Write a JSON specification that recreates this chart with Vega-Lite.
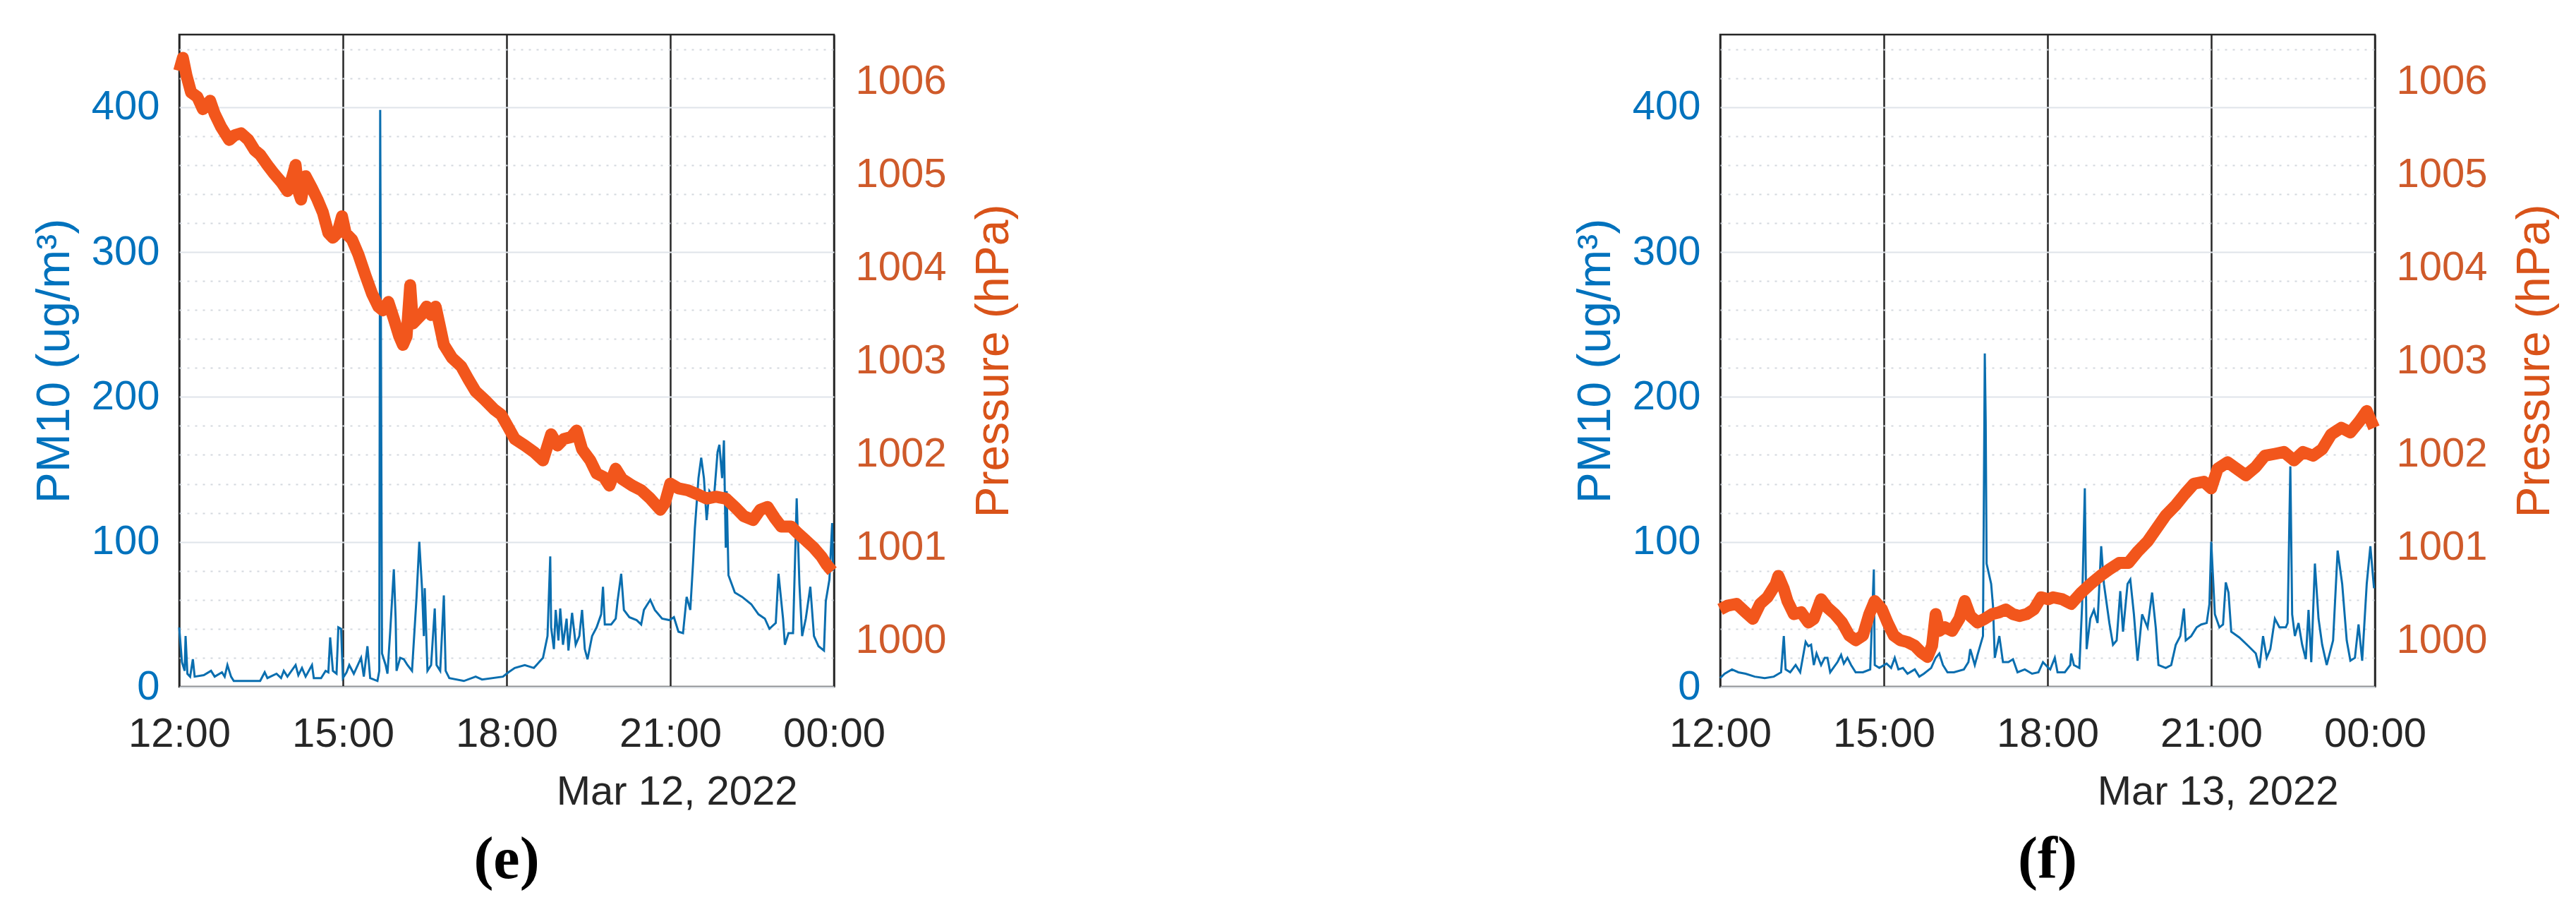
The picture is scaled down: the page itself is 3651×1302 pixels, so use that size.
{
  "$schema": "https://vega.github.io/schema/vega-lite/v6.json",
  "background": "white",
  "padding": {"left": 42, "top": 47, "right": 10, "bottom": 10},
  "spacing": 1256,
  "bounds": "flush",
  "config": {
    "font": "Liberation Sans",
    "view": {"stroke": "#262626", "strokeWidth": 2.5},
    "axis": {
      "labelFont": "Liberation Sans",
      "titleFont": "Liberation Sans",
      "labelFontSize": 58,
      "titleFontSize": 66,
      "titleFontWeight": "normal",
      "domain": false,
      "ticks": false,
      "tickSize": 0
    }
  },
  "datasets": {
    "pm_e": [
      {"time": "2022-03-12T12:00", "pm10": 41}, {"time": "2022-03-12T12:03", "pm10": 17}, {"time": "2022-03-12T12:06", "pm10": 11},
      {"time": "2022-03-12T12:07", "pm10": 35}, {"time": "2022-03-12T12:09", "pm10": 9}, {"time": "2022-03-12T12:12", "pm10": 7},
      {"time": "2022-03-12T12:15", "pm10": 19}, {"time": "2022-03-12T12:17", "pm10": 7}, {"time": "2022-03-12T12:27", "pm10": 8},
      {"time": "2022-03-12T12:35", "pm10": 11}, {"time": "2022-03-12T12:39", "pm10": 7}, {"time": "2022-03-12T12:47", "pm10": 10},
      {"time": "2022-03-12T12:50", "pm10": 7}, {"time": "2022-03-12T12:53", "pm10": 15}, {"time": "2022-03-12T12:57", "pm10": 7},
      {"time": "2022-03-12T13:00", "pm10": 4}, {"time": "2022-03-12T13:29", "pm10": 4}, {"time": "2022-03-12T13:34", "pm10": 10},
      {"time": "2022-03-12T13:37", "pm10": 6}, {"time": "2022-03-12T13:47", "pm10": 9}, {"time": "2022-03-12T13:52", "pm10": 6},
      {"time": "2022-03-12T13:55", "pm10": 11}, {"time": "2022-03-12T13:59", "pm10": 7}, {"time": "2022-03-12T14:08", "pm10": 15},
      {"time": "2022-03-12T14:11", "pm10": 8}, {"time": "2022-03-12T14:15", "pm10": 13}, {"time": "2022-03-12T14:19", "pm10": 7},
      {"time": "2022-03-12T14:26", "pm10": 15}, {"time": "2022-03-12T14:28", "pm10": 6}, {"time": "2022-03-12T14:36", "pm10": 6},
      {"time": "2022-03-12T14:41", "pm10": 11}, {"time": "2022-03-12T14:44", "pm10": 10}, {"time": "2022-03-12T14:46", "pm10": 34},
      {"time": "2022-03-12T14:49", "pm10": 11}, {"time": "2022-03-12T14:53", "pm10": 9}, {"time": "2022-03-12T14:55", "pm10": 41},
      {"time": "2022-03-12T14:58", "pm10": 40}, {"time": "2022-03-12T15:00", "pm10": 6}, {"time": "2022-03-12T15:04", "pm10": 10},
      {"time": "2022-03-12T15:07", "pm10": 15}, {"time": "2022-03-12T15:12", "pm10": 9}, {"time": "2022-03-12T15:20", "pm10": 20},
      {"time": "2022-03-12T15:23", "pm10": 7}, {"time": "2022-03-12T15:27", "pm10": 28}, {"time": "2022-03-12T15:30", "pm10": 6},
      {"time": "2022-03-12T15:38", "pm10": 4}, {"time": "2022-03-12T15:40", "pm10": 11}, {"time": "2022-03-12T15:41", "pm10": 398},
      {"time": "2022-03-12T15:43", "pm10": 23}, {"time": "2022-03-12T15:47", "pm10": 15}, {"time": "2022-03-12T15:49", "pm10": 9},
      {"time": "2022-03-12T15:52", "pm10": 38}, {"time": "2022-03-12T15:56", "pm10": 81}, {"time": "2022-03-12T15:58", "pm10": 47},
      {"time": "2022-03-12T15:59", "pm10": 11}, {"time": "2022-03-12T16:03", "pm10": 20}, {"time": "2022-03-12T16:07", "pm10": 19},
      {"time": "2022-03-12T16:11", "pm10": 15}, {"time": "2022-03-12T16:16", "pm10": 11}, {"time": "2022-03-12T16:21", "pm10": 62},
      {"time": "2022-03-12T16:24", "pm10": 100}, {"time": "2022-03-12T16:27", "pm10": 68}, {"time": "2022-03-12T16:29", "pm10": 35},
      {"time": "2022-03-12T16:30", "pm10": 68}, {"time": "2022-03-12T16:33", "pm10": 11}, {"time": "2022-03-12T16:37", "pm10": 15},
      {"time": "2022-03-12T16:41", "pm10": 54}, {"time": "2022-03-12T16:43", "pm10": 15}, {"time": "2022-03-12T16:47", "pm10": 11},
      {"time": "2022-03-12T16:51", "pm10": 63}, {"time": "2022-03-12T16:53", "pm10": 11}, {"time": "2022-03-12T16:57", "pm10": 6},
      {"time": "2022-03-12T17:13", "pm10": 4}, {"time": "2022-03-12T17:26", "pm10": 7}, {"time": "2022-03-12T17:33", "pm10": 5},
      {"time": "2022-03-12T17:56", "pm10": 7}, {"time": "2022-03-12T18:02", "pm10": 10}, {"time": "2022-03-12T18:09", "pm10": 13},
      {"time": "2022-03-12T18:20", "pm10": 15}, {"time": "2022-03-12T18:30", "pm10": 13}, {"time": "2022-03-12T18:40", "pm10": 20},
      {"time": "2022-03-12T18:45", "pm10": 35}, {"time": "2022-03-12T18:48", "pm10": 90}, {"time": "2022-03-12T18:49", "pm10": 41},
      {"time": "2022-03-12T18:52", "pm10": 26}, {"time": "2022-03-12T18:54", "pm10": 53}, {"time": "2022-03-12T18:57", "pm10": 32},
      {"time": "2022-03-12T18:59", "pm10": 54}, {"time": "2022-03-12T19:02", "pm10": 29}, {"time": "2022-03-12T19:06", "pm10": 47},
      {"time": "2022-03-12T19:08", "pm10": 25}, {"time": "2022-03-12T19:12", "pm10": 51}, {"time": "2022-03-12T19:16", "pm10": 29},
      {"time": "2022-03-12T19:20", "pm10": 35}, {"time": "2022-03-12T19:23", "pm10": 53}, {"time": "2022-03-12T19:26", "pm10": 26},
      {"time": "2022-03-12T19:29", "pm10": 19}, {"time": "2022-03-12T19:34", "pm10": 35}, {"time": "2022-03-12T19:39", "pm10": 41},
      {"time": "2022-03-12T19:44", "pm10": 50}, {"time": "2022-03-12T19:46", "pm10": 69}, {"time": "2022-03-12T19:48", "pm10": 43},
      {"time": "2022-03-12T19:55", "pm10": 43}, {"time": "2022-03-12T20:00", "pm10": 47}, {"time": "2022-03-12T20:02", "pm10": 59},
      {"time": "2022-03-12T20:06", "pm10": 78}, {"time": "2022-03-12T20:09", "pm10": 53}, {"time": "2022-03-12T20:15", "pm10": 48},
      {"time": "2022-03-12T20:23", "pm10": 46}, {"time": "2022-03-12T20:28", "pm10": 43}, {"time": "2022-03-12T20:31", "pm10": 53},
      {"time": "2022-03-12T20:38", "pm10": 60}, {"time": "2022-03-12T20:43", "pm10": 53}, {"time": "2022-03-12T20:51", "pm10": 47},
      {"time": "2022-03-12T20:59", "pm10": 46}, {"time": "2022-03-12T21:04", "pm10": 48}, {"time": "2022-03-12T21:09", "pm10": 38},
      {"time": "2022-03-12T21:14", "pm10": 37}, {"time": "2022-03-12T21:18", "pm10": 62}, {"time": "2022-03-12T21:22", "pm10": 53},
      {"time": "2022-03-12T21:25", "pm10": 85}, {"time": "2022-03-12T21:27", "pm10": 109}, {"time": "2022-03-12T21:31", "pm10": 144},
      {"time": "2022-03-12T21:34", "pm10": 158}, {"time": "2022-03-12T21:37", "pm10": 144}, {"time": "2022-03-12T21:40", "pm10": 115},
      {"time": "2022-03-12T21:43", "pm10": 135}, {"time": "2022-03-12T21:48", "pm10": 130}, {"time": "2022-03-12T21:52", "pm10": 162},
      {"time": "2022-03-12T21:54", "pm10": 167}, {"time": "2022-03-12T21:57", "pm10": 144}, {"time": "2022-03-12T21:59", "pm10": 170},
      {"time": "2022-03-12T22:01", "pm10": 96}, {"time": "2022-03-12T22:02", "pm10": 135}, {"time": "2022-03-12T22:04", "pm10": 77},
      {"time": "2022-03-12T22:11", "pm10": 65}, {"time": "2022-03-12T22:19", "pm10": 62}, {"time": "2022-03-12T22:29", "pm10": 57},
      {"time": "2022-03-12T22:37", "pm10": 50}, {"time": "2022-03-12T22:44", "pm10": 47}, {"time": "2022-03-12T22:49", "pm10": 40},
      {"time": "2022-03-12T22:56", "pm10": 44}, {"time": "2022-03-12T22:59", "pm10": 78}, {"time": "2022-03-12T23:04", "pm10": 47},
      {"time": "2022-03-12T23:06", "pm10": 29}, {"time": "2022-03-12T23:10", "pm10": 37}, {"time": "2022-03-12T23:15", "pm10": 37},
      {"time": "2022-03-12T23:19", "pm10": 130}, {"time": "2022-03-12T23:22", "pm10": 71}, {"time": "2022-03-12T23:25", "pm10": 35},
      {"time": "2022-03-12T23:29", "pm10": 47}, {"time": "2022-03-12T23:34", "pm10": 69}, {"time": "2022-03-12T23:38", "pm10": 35},
      {"time": "2022-03-12T23:43", "pm10": 28}, {"time": "2022-03-12T23:49", "pm10": 25}, {"time": "2022-03-12T23:51", "pm10": 59},
      {"time": "2022-03-12T23:55", "pm10": 74}, {"time": "2022-03-12T23:58", "pm10": 113}, {"time": "2022-03-12T23:59", "pm10": 80}
    ],
    "pr_e": [
      {"time": "2022-03-12T12:00", "pressure": 1006.11}, {"time": "2022-03-12T12:04", "pressure": 1006.25}, {"time": "2022-03-12T12:08", "pressure": 1006.06},
      {"time": "2022-03-12T12:13", "pressure": 1005.88}, {"time": "2022-03-12T12:20", "pressure": 1005.83}, {"time": "2022-03-12T12:26", "pressure": 1005.7},
      {"time": "2022-03-12T12:34", "pressure": 1005.79}, {"time": "2022-03-12T12:39", "pressure": 1005.65}, {"time": "2022-03-12T12:46", "pressure": 1005.51},
      {"time": "2022-03-12T12:55", "pressure": 1005.37}, {"time": "2022-03-12T13:01", "pressure": 1005.42}, {"time": "2022-03-12T13:08", "pressure": 1005.44},
      {"time": "2022-03-12T13:16", "pressure": 1005.37}, {"time": "2022-03-12T13:23", "pressure": 1005.26}, {"time": "2022-03-12T13:29", "pressure": 1005.21},
      {"time": "2022-03-12T13:37", "pressure": 1005.1}, {"time": "2022-03-12T13:44", "pressure": 1005.01}, {"time": "2022-03-12T13:52", "pressure": 1004.92},
      {"time": "2022-03-12T13:59", "pressure": 1004.82}, {"time": "2022-03-12T14:04", "pressure": 1004.96}, {"time": "2022-03-12T14:08", "pressure": 1005.1},
      {"time": "2022-03-12T14:11", "pressure": 1004.82}, {"time": "2022-03-12T14:14", "pressure": 1004.73}, {"time": "2022-03-12T14:19", "pressure": 1004.98},
      {"time": "2022-03-12T14:26", "pressure": 1004.85}, {"time": "2022-03-12T14:32", "pressure": 1004.73}, {"time": "2022-03-12T14:38", "pressure": 1004.59},
      {"time": "2022-03-12T14:44", "pressure": 1004.37}, {"time": "2022-03-12T14:49", "pressure": 1004.32}, {"time": "2022-03-12T14:54", "pressure": 1004.37},
      {"time": "2022-03-12T14:59", "pressure": 1004.55}, {"time": "2022-03-12T15:03", "pressure": 1004.37}, {"time": "2022-03-12T15:10", "pressure": 1004.3},
      {"time": "2022-03-12T15:17", "pressure": 1004.14}, {"time": "2022-03-12T15:25", "pressure": 1003.91}, {"time": "2022-03-12T15:32", "pressure": 1003.72},
      {"time": "2022-03-12T15:39", "pressure": 1003.58}, {"time": "2022-03-12T15:44", "pressure": 1003.54}, {"time": "2022-03-12T15:50", "pressure": 1003.63},
      {"time": "2022-03-12T15:56", "pressure": 1003.45}, {"time": "2022-03-12T16:02", "pressure": 1003.26}, {"time": "2022-03-12T16:06", "pressure": 1003.17},
      {"time": "2022-03-12T16:10", "pressure": 1003.26}, {"time": "2022-03-12T16:14", "pressure": 1003.81}, {"time": "2022-03-12T16:17", "pressure": 1003.4},
      {"time": "2022-03-12T16:22", "pressure": 1003.45}, {"time": "2022-03-12T16:26", "pressure": 1003.49}, {"time": "2022-03-12T16:32", "pressure": 1003.58},
      {"time": "2022-03-12T16:37", "pressure": 1003.49}, {"time": "2022-03-12T16:42", "pressure": 1003.58}, {"time": "2022-03-12T16:46", "pressure": 1003.4},
      {"time": "2022-03-12T16:51", "pressure": 1003.17}, {"time": "2022-03-12T17:00", "pressure": 1003.03}, {"time": "2022-03-12T17:10", "pressure": 1002.94},
      {"time": "2022-03-12T17:18", "pressure": 1002.8}, {"time": "2022-03-12T17:26", "pressure": 1002.67}, {"time": "2022-03-12T17:36", "pressure": 1002.58},
      {"time": "2022-03-12T17:46", "pressure": 1002.48}, {"time": "2022-03-12T17:54", "pressure": 1002.42}, {"time": "2022-03-12T18:01", "pressure": 1002.3},
      {"time": "2022-03-12T18:09", "pressure": 1002.16}, {"time": "2022-03-12T18:20", "pressure": 1002.09}, {"time": "2022-03-12T18:30", "pressure": 1002.02},
      {"time": "2022-03-12T18:40", "pressure": 1001.93}, {"time": "2022-03-12T18:49", "pressure": 1002.21}, {"time": "2022-03-12T18:56", "pressure": 1002.09},
      {"time": "2022-03-12T19:03", "pressure": 1002.16}, {"time": "2022-03-12T19:11", "pressure": 1002.18}, {"time": "2022-03-12T19:17", "pressure": 1002.25},
      {"time": "2022-03-12T19:23", "pressure": 1002.05}, {"time": "2022-03-12T19:32", "pressure": 1001.93}, {"time": "2022-03-12T19:39", "pressure": 1001.79},
      {"time": "2022-03-12T19:47", "pressure": 1001.75}, {"time": "2022-03-12T19:53", "pressure": 1001.66}, {"time": "2022-03-12T20:00", "pressure": 1001.84},
      {"time": "2022-03-12T20:07", "pressure": 1001.73}, {"time": "2022-03-12T20:18", "pressure": 1001.66}, {"time": "2022-03-12T20:28", "pressure": 1001.61},
      {"time": "2022-03-12T20:38", "pressure": 1001.52}, {"time": "2022-03-12T20:49", "pressure": 1001.4}, {"time": "2022-03-12T20:54", "pressure": 1001.47},
      {"time": "2022-03-12T21:00", "pressure": 1001.68}, {"time": "2022-03-12T21:09", "pressure": 1001.63}, {"time": "2022-03-12T21:19", "pressure": 1001.61},
      {"time": "2022-03-12T21:29", "pressure": 1001.57}, {"time": "2022-03-12T21:40", "pressure": 1001.52}, {"time": "2022-03-12T21:50", "pressure": 1001.54},
      {"time": "2022-03-12T22:01", "pressure": 1001.52}, {"time": "2022-03-12T22:11", "pressure": 1001.43}, {"time": "2022-03-12T22:21", "pressure": 1001.33},
      {"time": "2022-03-12T22:31", "pressure": 1001.29}, {"time": "2022-03-12T22:39", "pressure": 1001.4}, {"time": "2022-03-12T22:47", "pressure": 1001.43},
      {"time": "2022-03-12T22:55", "pressure": 1001.31}, {"time": "2022-03-12T23:02", "pressure": 1001.22}, {"time": "2022-03-12T23:13", "pressure": 1001.22},
      {"time": "2022-03-12T23:20", "pressure": 1001.15}, {"time": "2022-03-12T23:28", "pressure": 1001.08}, {"time": "2022-03-12T23:38", "pressure": 1000.99},
      {"time": "2022-03-12T23:46", "pressure": 1000.9}, {"time": "2022-03-12T23:52", "pressure": 1000.81}, {"time": "2022-03-12T23:58", "pressure": 1000.74}
    ],
    "pm_f": [
      {"time": "2022-03-13T12:00", "pm10": 6}, {"time": "2022-03-13T12:05", "pm10": 9}, {"time": "2022-03-13T12:13", "pm10": 12},
      {"time": "2022-03-13T12:20", "pm10": 10}, {"time": "2022-03-13T12:28", "pm10": 9}, {"time": "2022-03-13T12:38", "pm10": 7},
      {"time": "2022-03-13T12:49", "pm10": 6}, {"time": "2022-03-13T12:59", "pm10": 7}, {"time": "2022-03-13T13:07", "pm10": 10},
      {"time": "2022-03-13T13:10", "pm10": 35}, {"time": "2022-03-13T13:12", "pm10": 12}, {"time": "2022-03-13T13:17", "pm10": 10},
      {"time": "2022-03-13T13:23", "pm10": 15}, {"time": "2022-03-13T13:28", "pm10": 10}, {"time": "2022-03-13T13:34", "pm10": 31},
      {"time": "2022-03-13T13:37", "pm10": 28}, {"time": "2022-03-13T13:40", "pm10": 29}, {"time": "2022-03-13T13:43", "pm10": 15},
      {"time": "2022-03-13T13:46", "pm10": 23}, {"time": "2022-03-13T13:51", "pm10": 15}, {"time": "2022-03-13T13:55", "pm10": 20},
      {"time": "2022-03-13T13:58", "pm10": 20}, {"time": "2022-03-13T14:01", "pm10": 10}, {"time": "2022-03-13T14:09", "pm10": 17},
      {"time": "2022-03-13T14:13", "pm10": 22}, {"time": "2022-03-13T14:16", "pm10": 16}, {"time": "2022-03-13T14:20", "pm10": 20},
      {"time": "2022-03-13T14:24", "pm10": 15}, {"time": "2022-03-13T14:29", "pm10": 10}, {"time": "2022-03-13T14:37", "pm10": 10},
      {"time": "2022-03-13T14:45", "pm10": 12}, {"time": "2022-03-13T14:49", "pm10": 81}, {"time": "2022-03-13T14:50", "pm10": 15},
      {"time": "2022-03-13T14:55", "pm10": 13}, {"time": "2022-03-13T15:03", "pm10": 16}, {"time": "2022-03-13T15:08", "pm10": 13},
      {"time": "2022-03-13T15:12", "pm10": 20}, {"time": "2022-03-13T15:16", "pm10": 12}, {"time": "2022-03-13T15:21", "pm10": 13},
      {"time": "2022-03-13T15:26", "pm10": 9}, {"time": "2022-03-13T15:34", "pm10": 12}, {"time": "2022-03-13T15:39", "pm10": 7},
      {"time": "2022-03-13T15:44", "pm10": 9}, {"time": "2022-03-13T15:52", "pm10": 13}, {"time": "2022-03-13T15:57", "pm10": 20},
      {"time": "2022-03-13T16:01", "pm10": 23}, {"time": "2022-03-13T16:05", "pm10": 15}, {"time": "2022-03-13T16:10", "pm10": 10},
      {"time": "2022-03-13T16:17", "pm10": 10}, {"time": "2022-03-13T16:28", "pm10": 12}, {"time": "2022-03-13T16:33", "pm10": 17},
      {"time": "2022-03-13T16:35", "pm10": 26}, {"time": "2022-03-13T16:40", "pm10": 15}, {"time": "2022-03-13T16:43", "pm10": 22},
      {"time": "2022-03-13T16:49", "pm10": 35}, {"time": "2022-03-13T16:51", "pm10": 230}, {"time": "2022-03-13T16:52", "pm10": 183},
      {"time": "2022-03-13T16:53", "pm10": 85}, {"time": "2022-03-13T16:58", "pm10": 71}, {"time": "2022-03-13T17:00", "pm10": 56},
      {"time": "2022-03-13T17:02", "pm10": 20}, {"time": "2022-03-13T17:07", "pm10": 35}, {"time": "2022-03-13T17:11", "pm10": 17},
      {"time": "2022-03-13T17:17", "pm10": 17}, {"time": "2022-03-13T17:22", "pm10": 19}, {"time": "2022-03-13T17:27", "pm10": 10},
      {"time": "2022-03-13T17:35", "pm10": 12}, {"time": "2022-03-13T17:43", "pm10": 9}, {"time": "2022-03-13T17:50", "pm10": 10},
      {"time": "2022-03-13T17:55", "pm10": 17}, {"time": "2022-03-13T18:01", "pm10": 13}, {"time": "2022-03-13T18:03", "pm10": 12},
      {"time": "2022-03-13T18:08", "pm10": 20}, {"time": "2022-03-13T18:11", "pm10": 10}, {"time": "2022-03-13T18:19", "pm10": 10},
      {"time": "2022-03-13T18:25", "pm10": 15}, {"time": "2022-03-13T18:26", "pm10": 23}, {"time": "2022-03-13T18:29", "pm10": 15},
      {"time": "2022-03-13T18:35", "pm10": 13}, {"time": "2022-03-13T18:38", "pm10": 56}, {"time": "2022-03-13T18:41", "pm10": 137},
      {"time": "2022-03-13T18:43", "pm10": 26}, {"time": "2022-03-13T18:47", "pm10": 47}, {"time": "2022-03-13T18:51", "pm10": 53},
      {"time": "2022-03-13T18:55", "pm10": 44}, {"time": "2022-03-13T18:59", "pm10": 97}, {"time": "2022-03-13T19:02", "pm10": 71},
      {"time": "2022-03-13T19:04", "pm10": 62}, {"time": "2022-03-13T19:08", "pm10": 44}, {"time": "2022-03-13T19:12", "pm10": 29},
      {"time": "2022-03-13T19:16", "pm10": 32}, {"time": "2022-03-13T19:20", "pm10": 66}, {"time": "2022-03-13T19:23", "pm10": 38},
      {"time": "2022-03-13T19:28", "pm10": 71}, {"time": "2022-03-13T19:31", "pm10": 74}, {"time": "2022-03-13T19:35", "pm10": 50},
      {"time": "2022-03-13T19:39", "pm10": 18}, {"time": "2022-03-13T19:44", "pm10": 50}, {"time": "2022-03-13T19:50", "pm10": 41},
      {"time": "2022-03-13T19:55", "pm10": 65}, {"time": "2022-03-13T19:59", "pm10": 41}, {"time": "2022-03-13T20:02", "pm10": 15},
      {"time": "2022-03-13T20:10", "pm10": 13}, {"time": "2022-03-13T20:16", "pm10": 15}, {"time": "2022-03-13T20:21", "pm10": 29},
      {"time": "2022-03-13T20:26", "pm10": 35}, {"time": "2022-03-13T20:30", "pm10": 54}, {"time": "2022-03-13T20:32", "pm10": 32},
      {"time": "2022-03-13T20:38", "pm10": 35}, {"time": "2022-03-13T20:44", "pm10": 41}, {"time": "2022-03-13T20:49", "pm10": 43},
      {"time": "2022-03-13T20:55", "pm10": 44}, {"time": "2022-03-13T20:58", "pm10": 57}, {"time": "2022-03-13T21:00", "pm10": 100},
      {"time": "2022-03-13T21:04", "pm10": 50}, {"time": "2022-03-13T21:09", "pm10": 41}, {"time": "2022-03-13T21:13", "pm10": 43},
      {"time": "2022-03-13T21:16", "pm10": 72}, {"time": "2022-03-13T21:19", "pm10": 65}, {"time": "2022-03-13T21:22", "pm10": 38},
      {"time": "2022-03-13T21:31", "pm10": 34}, {"time": "2022-03-13T21:41", "pm10": 28}, {"time": "2022-03-13T21:49", "pm10": 23},
      {"time": "2022-03-13T21:53", "pm10": 13}, {"time": "2022-03-13T21:57", "pm10": 35}, {"time": "2022-03-13T22:01", "pm10": 20},
      {"time": "2022-03-13T22:05", "pm10": 26}, {"time": "2022-03-13T22:10", "pm10": 47}, {"time": "2022-03-13T22:15", "pm10": 41},
      {"time": "2022-03-13T22:22", "pm10": 41}, {"time": "2022-03-13T22:24", "pm10": 44}, {"time": "2022-03-13T22:27", "pm10": 152},
      {"time": "2022-03-13T22:29", "pm10": 50}, {"time": "2022-03-13T22:32", "pm10": 35}, {"time": "2022-03-13T22:36", "pm10": 44},
      {"time": "2022-03-13T22:40", "pm10": 29}, {"time": "2022-03-13T22:44", "pm10": 19}, {"time": "2022-03-13T22:47", "pm10": 53},
      {"time": "2022-03-13T22:50", "pm10": 17}, {"time": "2022-03-13T22:54", "pm10": 85}, {"time": "2022-03-13T22:58", "pm10": 47},
      {"time": "2022-03-13T23:02", "pm10": 29}, {"time": "2022-03-13T23:07", "pm10": 15}, {"time": "2022-03-13T23:14", "pm10": 32},
      {"time": "2022-03-13T23:19", "pm10": 94}, {"time": "2022-03-13T23:24", "pm10": 71}, {"time": "2022-03-13T23:29", "pm10": 32},
      {"time": "2022-03-13T23:33", "pm10": 18}, {"time": "2022-03-13T23:38", "pm10": 20}, {"time": "2022-03-13T23:42", "pm10": 43},
      {"time": "2022-03-13T23:46", "pm10": 18}, {"time": "2022-03-13T23:51", "pm10": 71}, {"time": "2022-03-13T23:55", "pm10": 97},
      {"time": "2022-03-13T23:59", "pm10": 68}
    ],
    "pr_f": [
      {"time": "2022-03-13T12:00", "pressure": 1000.33}, {"time": "2022-03-13T12:08", "pressure": 1000.37}, {"time": "2022-03-13T12:18", "pressure": 1000.39},
      {"time": "2022-03-13T12:28", "pressure": 1000.3}, {"time": "2022-03-13T12:36", "pressure": 1000.23}, {"time": "2022-03-13T12:44", "pressure": 1000.39},
      {"time": "2022-03-13T12:52", "pressure": 1000.46}, {"time": "2022-03-13T13:01", "pressure": 1000.6}, {"time": "2022-03-13T13:04", "pressure": 1000.69},
      {"time": "2022-03-13T13:10", "pressure": 1000.55}, {"time": "2022-03-13T13:14", "pressure": 1000.42}, {"time": "2022-03-13T13:21", "pressure": 1000.28},
      {"time": "2022-03-13T13:29", "pressure": 1000.3}, {"time": "2022-03-13T13:37", "pressure": 1000.19}, {"time": "2022-03-13T13:43", "pressure": 1000.23},
      {"time": "2022-03-13T13:51", "pressure": 1000.44}, {"time": "2022-03-13T13:58", "pressure": 1000.35}, {"time": "2022-03-13T14:06", "pressure": 1000.28},
      {"time": "2022-03-13T14:14", "pressure": 1000.19}, {"time": "2022-03-13T14:22", "pressure": 1000.05}, {"time": "2022-03-13T14:29", "pressure": 1000.0},
      {"time": "2022-03-13T14:37", "pressure": 1000.05}, {"time": "2022-03-13T14:44", "pressure": 1000.28}, {"time": "2022-03-13T14:50", "pressure": 1000.42},
      {"time": "2022-03-13T14:58", "pressure": 1000.33}, {"time": "2022-03-13T15:04", "pressure": 1000.19}, {"time": "2022-03-13T15:11", "pressure": 1000.05},
      {"time": "2022-03-13T15:18", "pressure": 1000.0}, {"time": "2022-03-13T15:26", "pressure": 999.98}, {"time": "2022-03-13T15:34", "pressure": 999.94},
      {"time": "2022-03-13T15:41", "pressure": 999.87}, {"time": "2022-03-13T15:48", "pressure": 999.82}, {"time": "2022-03-13T15:53", "pressure": 999.94},
      {"time": "2022-03-13T15:57", "pressure": 1000.28}, {"time": "2022-03-13T16:01", "pressure": 1000.1}, {"time": "2022-03-13T16:07", "pressure": 1000.14},
      {"time": "2022-03-13T16:15", "pressure": 1000.1}, {"time": "2022-03-13T16:23", "pressure": 1000.23}, {"time": "2022-03-13T16:29", "pressure": 1000.42},
      {"time": "2022-03-13T16:35", "pressure": 1000.26}, {"time": "2022-03-13T16:43", "pressure": 1000.19}, {"time": "2022-03-13T16:51", "pressure": 1000.23},
      {"time": "2022-03-13T16:59", "pressure": 1000.28}, {"time": "2022-03-13T17:07", "pressure": 1000.3}, {"time": "2022-03-13T17:14", "pressure": 1000.33},
      {"time": "2022-03-13T17:22", "pressure": 1000.28}, {"time": "2022-03-13T17:29", "pressure": 1000.26}, {"time": "2022-03-13T17:37", "pressure": 1000.28},
      {"time": "2022-03-13T17:45", "pressure": 1000.33}, {"time": "2022-03-13T17:53", "pressure": 1000.46}, {"time": "2022-03-13T18:01", "pressure": 1000.44},
      {"time": "2022-03-13T18:06", "pressure": 1000.46}, {"time": "2022-03-13T18:16", "pressure": 1000.44}, {"time": "2022-03-13T18:26", "pressure": 1000.39},
      {"time": "2022-03-13T18:37", "pressure": 1000.51}, {"time": "2022-03-13T18:47", "pressure": 1000.6}, {"time": "2022-03-13T18:58", "pressure": 1000.69},
      {"time": "2022-03-13T19:08", "pressure": 1000.76}, {"time": "2022-03-13T19:19", "pressure": 1000.83}, {"time": "2022-03-13T19:29", "pressure": 1000.83},
      {"time": "2022-03-13T19:39", "pressure": 1000.95}, {"time": "2022-03-13T19:50", "pressure": 1001.06}, {"time": "2022-03-13T20:00", "pressure": 1001.2},
      {"time": "2022-03-13T20:10", "pressure": 1001.34}, {"time": "2022-03-13T20:21", "pressure": 1001.45}, {"time": "2022-03-13T20:31", "pressure": 1001.57},
      {"time": "2022-03-13T20:41", "pressure": 1001.68}, {"time": "2022-03-13T20:52", "pressure": 1001.7}, {"time": "2022-03-13T21:00", "pressure": 1001.63},
      {"time": "2022-03-13T21:07", "pressure": 1001.84}, {"time": "2022-03-13T21:18", "pressure": 1001.91}, {"time": "2022-03-13T21:28", "pressure": 1001.84},
      {"time": "2022-03-13T21:38", "pressure": 1001.77}, {"time": "2022-03-13T21:49", "pressure": 1001.86}, {"time": "2022-03-13T21:59", "pressure": 1001.98},
      {"time": "2022-03-13T22:10", "pressure": 1002.0}, {"time": "2022-03-13T22:20", "pressure": 1002.02}, {"time": "2022-03-13T22:31", "pressure": 1001.93},
      {"time": "2022-03-13T22:41", "pressure": 1002.02}, {"time": "2022-03-13T22:52", "pressure": 1001.98}, {"time": "2022-03-13T23:02", "pressure": 1002.05},
      {"time": "2022-03-13T23:12", "pressure": 1002.21}, {"time": "2022-03-13T23:23", "pressure": 1002.28}, {"time": "2022-03-13T23:33", "pressure": 1002.23},
      {"time": "2022-03-13T23:43", "pressure": 1002.35}, {"time": "2022-03-13T23:51", "pressure": 1002.46}, {"time": "2022-03-13T23:59", "pressure": 1002.28}
    ]
  },
  "hconcat": [
    {
      "width": 928,
      "height": 924,
      "title": {"text": "(e)", "orient": "bottom", "anchor": "middle", "frame": "group", "font": "Liberation Serif", "fontSize": 84, "fontWeight": "bold", "color": "#000000", "baseline": "top", "offset": 27},
      "encoding": {
        "x": {
          "field": "time", "type": "temporal",
          "scale": {"domain": [{"year": 2022, "month": 3, "date": 12, "hours": 12}, {"year": 2022, "month": 3, "date": 13, "hours": 0}], "nice": false},
          "axis": {
            "values": [{"year": 2022, "month": 3, "date": 12, "hours": 12}, {"year": 2022, "month": 3, "date": 12, "hours": 15}, {"year": 2022, "month": 3, "date": 12, "hours": 18}, {"year": 2022, "month": 3, "date": 12, "hours": 21}, {"year": 2022, "month": 3, "date": 13, "hours": 0}],
            "format": "%H:%M", "labelColor": "#262626", "labelPadding": 38, "labelFlush": false,
            "grid": true, "gridColor": "#262626", "gridWidth": 2.5, "gridOpacity": 1,
            "title": "Mar 12, 2022", "titleColor": "#262626", "titleFontSize": 58,
            "titleX": 876, "titleY": 166, "titleAlign": "right", "titleBaseline": "alphabetic", "titleAnchor": "end"
          }
        }
      },
      "layer": [
        {
          "data": {"name": "pm_e"},
          "mark": {"type": "line", "color": "#0A6EAF", "strokeWidth": 3},
          "encoding": {
            "y": {
              "field": "pm10", "type": "quantitative",
              "scale": {"domain": [0, 450], "nice": false},
              "axis": {
                "orient": "left",
                "values": [0, 20, 40, 60, 80, 100, 120, 140, 160, 180, 200, 220, 240, 260, 280, 300, 320, 340, 360, 380, 400, 420, 440],
                "labelExpr": "datum.value % 100 === 0 ? datum.label : ''",
                "labelColor": "#0072BD", "labelPadding": 28,
                "grid": true, "gridWidth": 2,
                "gridColor": {"condition": {"test": "datum.value % 100 === 0", "value": "#dfe4ea"}, "value": "#d3d8de"},
                "gridDash": {"condition": {"test": "datum.value % 100 === 0", "value": []}, "value": [3, 8]},
                "title": "PM10 (ug/m³)", "titleColor": "#0072BD",
                "titleX": -157, "titleY": 462, "titleAngle": 270, "titleAlign": "center", "titleBaseline": "alphabetic"
              }
            }
          }
        },
        {
          "data": {"name": "pr_e"},
          "mark": {"type": "line", "color": "#F2561C", "strokeWidth": 17, "strokeJoin": "round"},
          "encoding": {
            "y": {
              "field": "pressure", "type": "quantitative",
              "scale": {"domain": [999.5, 1006.5], "nice": false, "zero": false},
              "axis": {
                "orient": "right",
                "values": [1000, 1001, 1002, 1003, 1004, 1005, 1006], "format": "d",
                "labelColor": "#CF5A2A", "labelPadding": 30, "grid": false,
                "title": "Pressure (hPa)", "titleColor": "#D95319",
                "titleX": 246, "titleY": 462, "titleAngle": 270, "titleAlign": "center", "titleBaseline": "alphabetic"
              }
            }
          }
        }
      ],
      "resolve": {"scale": {"y": "independent"}}
    },
    {
      "width": 928,
      "height": 924,
      "title": {"text": "(f)", "orient": "bottom", "anchor": "middle", "frame": "group", "font": "Liberation Serif", "fontSize": 84, "fontWeight": "bold", "color": "#000000", "baseline": "top", "offset": 27},
      "encoding": {
        "x": {
          "field": "time", "type": "temporal",
          "scale": {"domain": [{"year": 2022, "month": 3, "date": 13, "hours": 12}, {"year": 2022, "month": 3, "date": 14, "hours": 0}], "nice": false},
          "axis": {
            "values": [{"year": 2022, "month": 3, "date": 13, "hours": 12}, {"year": 2022, "month": 3, "date": 13, "hours": 15}, {"year": 2022, "month": 3, "date": 13, "hours": 18}, {"year": 2022, "month": 3, "date": 13, "hours": 21}, {"year": 2022, "month": 3, "date": 14, "hours": 0}],
            "format": "%H:%M", "labelColor": "#262626", "labelPadding": 38, "labelFlush": false,
            "grid": true, "gridColor": "#262626", "gridWidth": 2.5, "gridOpacity": 1,
            "title": "Mar 13, 2022", "titleColor": "#262626", "titleFontSize": 58,
            "titleX": 876, "titleY": 166, "titleAlign": "right", "titleBaseline": "alphabetic", "titleAnchor": "end"
          }
        }
      },
      "layer": [
        {
          "data": {"name": "pm_f"},
          "mark": {"type": "line", "color": "#0A6EAF", "strokeWidth": 3},
          "encoding": {
            "y": {
              "field": "pm10", "type": "quantitative",
              "scale": {"domain": [0, 450], "nice": false},
              "axis": {
                "orient": "left",
                "values": [0, 20, 40, 60, 80, 100, 120, 140, 160, 180, 200, 220, 240, 260, 280, 300, 320, 340, 360, 380, 400, 420, 440],
                "labelExpr": "datum.value % 100 === 0 ? datum.label : ''",
                "labelColor": "#0072BD", "labelPadding": 28,
                "grid": true, "gridWidth": 2,
                "gridColor": {"condition": {"test": "datum.value % 100 === 0", "value": "#dfe4ea"}, "value": "#d3d8de"},
                "gridDash": {"condition": {"test": "datum.value % 100 === 0", "value": []}, "value": [3, 8]},
                "title": "PM10 (ug/m³)", "titleColor": "#0072BD",
                "titleX": -157, "titleY": 462, "titleAngle": 270, "titleAlign": "center", "titleBaseline": "alphabetic"
              }
            }
          }
        },
        {
          "data": {"name": "pr_f"},
          "mark": {"type": "line", "color": "#F2561C", "strokeWidth": 17, "strokeJoin": "round"},
          "encoding": {
            "y": {
              "field": "pressure", "type": "quantitative",
              "scale": {"domain": [999.5, 1006.5], "nice": false, "zero": false},
              "axis": {
                "orient": "right",
                "values": [1000, 1001, 1002, 1003, 1004, 1005, 1006], "format": "d",
                "labelColor": "#CF5A2A", "labelPadding": 30, "grid": false,
                "title": "Pressure (hPa)", "titleColor": "#D95319",
                "titleX": 246, "titleY": 462, "titleAngle": 270, "titleAlign": "center", "titleBaseline": "alphabetic"
              }
            }
          }
        }
      ],
      "resolve": {"scale": {"y": "independent"}}
    }
  ]
}
